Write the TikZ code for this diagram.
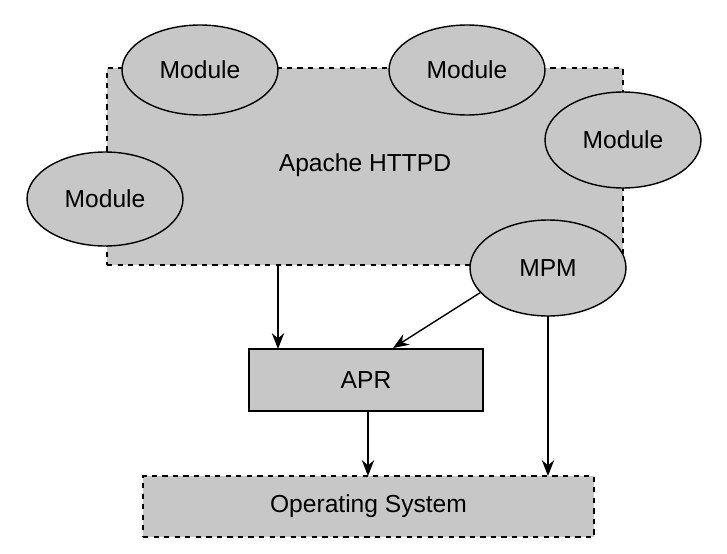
\documentclass[tikz,border=0pt]{standalone}
\usepackage{fontspec}
\setmainfont{Liberation Sans}
\usetikzlibrary{arrows.meta,shapes.geometric}
\tikzset{
  mod/.style={draw, thick, shape=ellipse, fill=black!22, minimum width=3.12cm, minimum height=1.8cm, inner sep=0pt},
  box/.style={draw, thick, fill=black!22, inner sep=0pt},
}
\begin{document}
\begin{tikzpicture}[->, >={Stealth[length=9pt,width=7pt]}, x=0.02cm, y=-0.02cm, font=\fontsize{14}{16}\selectfont]
\useasboundingbox (0,0) rectangle (727,554);
% Boxes
\node (httpd) [box, dashed, minimum width=10.32cm, minimum height=3.94cm] at (365,166.5) {};
\node at (365,165) {Apache HTTPD};
\node (apr) [box, minimum width=4.68cm, minimum height=1.24cm] at (366,380) {APR};
\node (os) [box, dashed, minimum width=9.02cm, minimum height=1.22cm] at (368.5,506.5) {Operating System};
% Ellipses
\node (m1) [mod] at (200,70) {Module};
\node (m2) [mod] at (467,70) {Module};
\node (m3) [mod, minimum height=1.92cm] at (623,140) {Module};
\node (m4) [mod, minimum height=1.88cm] at (105,199) {Module};
\node (mpm) [mod, minimum height=1.92cm] at (548,268) {MPM};
% Edges
\coordinate (a1) at (278,265);
\coordinate (a2) at (278,349);
\coordinate (b2) at (393,348);
\coordinate (c1) at (548,316);
\coordinate (c2) at (548,476);
\coordinate (d1) at (368,411);
\coordinate (d2) at (368,476);
\draw[thick] (a1) -- (a2);
\draw[thick] (mpm.200) -- (b2);
\draw[thick] (c1) -- (c2);
\draw[thick] (d1) -- (d2);
\end{tikzpicture}
\end{document}
